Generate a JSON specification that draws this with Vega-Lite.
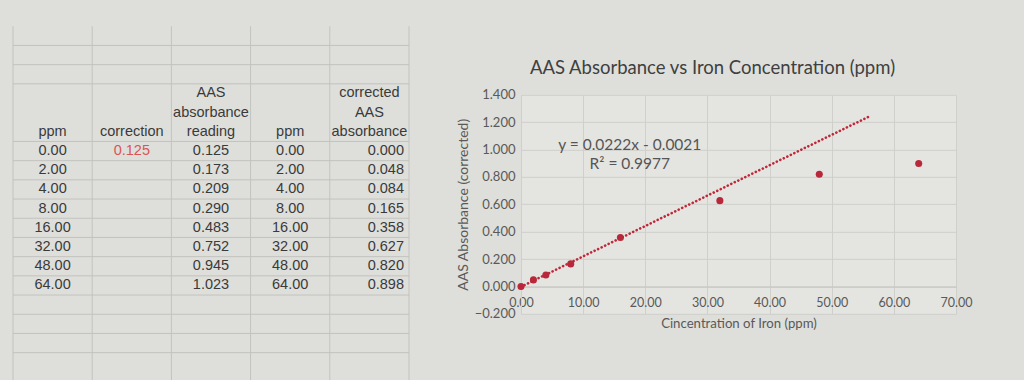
{
  "$schema": "https://vega.github.io/schema/vega-lite/v6.json",
  "background": "#dedfda",
  "padding": {"left": 12, "top": 25, "right": 55, "bottom": 0},
  "center": true,
  "spacing": 46,
  "config": {"view": {"stroke": null}},
  "datasets": {
    "cells": [
      {"col": "reading", "row": "h1", "text": "AAS"},
      {"col": "corrected", "row": "h1", "text": "corrected"},
      {"col": "reading", "row": "h2", "text": "absorbance"},
      {"col": "corrected", "row": "h2", "text": "AAS"},
      {"col": "ppm", "row": "h3", "text": "ppm"},
      {"col": "correction", "row": "h3", "text": "correction"},
      {"col": "reading", "row": "h3", "text": "reading"},
      {"col": "ppm2", "row": "h3", "text": "ppm"},
      {"col": "corrected", "row": "h3", "text": "absorbance"},
      {"col": "ppm", "row": "r0", "text": "0.00"},
      {"col": "correction", "row": "r0", "text": "0.125"},
      {"col": "reading", "row": "r0", "text": "0.125"},
      {"col": "ppm2", "row": "r0", "text": "0.00"},
      {"col": "corrected", "row": "r0", "text": "0.000"},
      {"col": "ppm", "row": "r1", "text": "2.00"},
      {"col": "reading", "row": "r1", "text": "0.173"},
      {"col": "ppm2", "row": "r1", "text": "2.00"},
      {"col": "corrected", "row": "r1", "text": "0.048"},
      {"col": "ppm", "row": "r2", "text": "4.00"},
      {"col": "reading", "row": "r2", "text": "0.209"},
      {"col": "ppm2", "row": "r2", "text": "4.00"},
      {"col": "corrected", "row": "r2", "text": "0.084"},
      {"col": "ppm", "row": "r3", "text": "8.00"},
      {"col": "reading", "row": "r3", "text": "0.290"},
      {"col": "ppm2", "row": "r3", "text": "8.00"},
      {"col": "corrected", "row": "r3", "text": "0.165"},
      {"col": "ppm", "row": "r4", "text": "16.00"},
      {"col": "reading", "row": "r4", "text": "0.483"},
      {"col": "ppm2", "row": "r4", "text": "16.00"},
      {"col": "corrected", "row": "r4", "text": "0.358"},
      {"col": "ppm", "row": "r5", "text": "32.00"},
      {"col": "reading", "row": "r5", "text": "0.752"},
      {"col": "ppm2", "row": "r5", "text": "32.00"},
      {"col": "corrected", "row": "r5", "text": "0.627"},
      {"col": "ppm", "row": "r6", "text": "48.00"},
      {"col": "reading", "row": "r6", "text": "0.945"},
      {"col": "ppm2", "row": "r6", "text": "48.00"},
      {"col": "corrected", "row": "r6", "text": "0.820"},
      {"col": "ppm", "row": "r7", "text": "64.00"},
      {"col": "reading", "row": "r7", "text": "1.023"},
      {"col": "ppm2", "row": "r7", "text": "64.00"},
      {"col": "corrected", "row": "r7", "text": "0.898"}
    ],
    "hlines": [
      {"row": "t1"}, {"row": "t2"}, {"row": "h1"},
      {"row": "r0"}, {"row": "r1"}, {"row": "r2"}, {"row": "r3"},
      {"row": "r4"}, {"row": "r5"}, {"row": "r6"}, {"row": "r7"},
      {"row": "b1"}, {"row": "b2"}, {"row": "b3"}, {"row": "b4"}
    ],
    "vlines": [
      {"col": "ppm"}, {"col": "correction"}, {"col": "reading"}, {"col": "ppm2"}, {"col": "corrected"}
    ],
    "points": [
      {"ppm": 0, "absorbance": 0.000},
      {"ppm": 2, "absorbance": 0.048},
      {"ppm": 4, "absorbance": 0.084},
      {"ppm": 8, "absorbance": 0.165},
      {"ppm": 16, "absorbance": 0.358},
      {"ppm": 32, "absorbance": 0.627},
      {"ppm": 48, "absorbance": 0.820},
      {"ppm": 64, "absorbance": 0.898}
    ],
    "trend": [
      {"ppm": 0, "absorbance": -0.0021},
      {"ppm": 56, "absorbance": 1.2411}
    ],
    "note": [
      {"x": 17.5, "y": 1.034, "label": "y = 0.0222x - 0.0021\nR² = 0.9977"}
    ]
  },
  "hconcat": [
    {
      "width": 396,
      "height": 372,
      "layer": [
        {
          "data": {"name": "vlines"},
          "mark": {"type": "rule", "color": "#c2c3be", "strokeWidth": 1},
          "encoding": {
            "x": {"field": "col", "type": "nominal", "bandPosition": 0,
                  "scale": {"type": "band", "domain": ["ppm", "correction", "reading", "ppm2", "corrected"], "paddingInner": 0, "paddingOuter": 0},
                  "axis": null}
          }
        },
        {
          "data": {"values": [{}]},
          "mark": {"type": "rule", "color": "#c2c3be", "strokeWidth": 1},
          "encoding": {
            "x": {"datum": "corrected", "type": "nominal", "bandPosition": 1,
                  "scale": {"type": "band", "domain": ["ppm", "correction", "reading", "ppm2", "corrected"], "paddingInner": 0, "paddingOuter": 0},
                  "axis": null}
          }
        },
        {
          "data": {"name": "hlines"},
          "mark": {"type": "rule", "color": "#c2c3be", "strokeWidth": 1},
          "encoding": {
            "y": {"field": "row", "type": "nominal", "bandPosition": 0,
                  "scale": {"type": "band", "domain": ["t0", "t1", "t2", "h1", "h2", "h3", "r0", "r1", "r2", "r3", "r4", "r5", "r6", "r7", "b1", "b2", "b3", "b4", "b5"], "paddingInner": 0, "paddingOuter": 0.1875, "align": 0},
                  "axis": null}
          }
        },
        {
          "data": {"name": "cells"},
          "transform": [{"filter": "datum.col !== 'corrected' || datum.row[0] === 'h'"}],
          "mark": {"type": "text", "font": "Liberation Sans", "fontSize": 14.5, "baseline": "middle", "align": "center"},
          "encoding": {
            "x": {"field": "col", "type": "nominal", "bandPosition": 0.5,
                  "scale": {"type": "band", "domain": ["ppm", "correction", "reading", "ppm2", "corrected"], "paddingInner": 0, "paddingOuter": 0},
                  "axis": null},
            "y": {"field": "row", "type": "nominal", "bandPosition": 0.5,
                  "scale": {"type": "band", "domain": ["t0", "t1", "t2", "h1", "h2", "h3", "r0", "r1", "r2", "r3", "r4", "r5", "r6", "r7", "b1", "b2", "b3", "b4", "b5"], "paddingInner": 0, "paddingOuter": 0.1875, "align": 0},
                  "axis": null},
            "text": {"field": "text"},
            "color": {"condition": {"test": "datum.col === 'correction' && datum.row === 'r0'", "value": "#d95555"}, "value": "#3a3a3a"}
          }
        },
        {
          "data": {"name": "cells"},
          "transform": [{"filter": "datum.col === 'corrected' && datum.row[0] === 'r'"}],
          "mark": {"type": "text", "font": "Liberation Sans", "fontSize": 14.5, "baseline": "middle", "align": "right", "dx": -5, "color": "#3a3a3a"},
          "encoding": {
            "x": {"field": "col", "type": "nominal", "bandPosition": 1,
                  "scale": {"type": "band", "domain": ["ppm", "correction", "reading", "ppm2", "corrected"], "paddingInner": 0, "paddingOuter": 0},
                  "axis": null},
            "y": {"field": "row", "type": "nominal", "bandPosition": 0.5,
                  "scale": {"type": "band", "domain": ["t0", "t1", "t2", "h1", "h2", "h3", "r0", "r1", "r2", "r3", "r4", "r5", "r6", "r7", "b1", "b2", "b3", "b4", "b5"], "paddingInner": 0, "paddingOuter": 0.1875, "align": 0},
                  "axis": null},
            "text": {"field": "text"}
          }
        }
      ]
    },
    {
      "width": 435,
      "height": 219,
      "view": {"fill": "#e4e4e0", "stroke": null},
      "title": {"text": "AAS Absorbance vs Iron Concentration (ppm)", "font": "Lato", "fontSize": 18.5, "fontWeight": "normal", "color": "#404040", "offset": 11, "dx": -26},
      "resolve": {"axis": {"x": "independent"}},
      "layer": [
        {
          "data": {"name": "points"},
          "mark": {"type": "circle", "size": 0, "opacity": 0},
          "encoding": {
            "x": {"field": "ppm", "type": "quantitative",
                  "scale": {"domain": [0, 70], "nice": false, "zero": false},
                  "axis": {"grid": true, "gridColor": "#cfcfcb", "labels": false, "ticks": false, "domain": false, "title": null, "values": [0, 10, 20, 30, 40, 50, 60, 70]}},
            "y": {"field": "absorbance", "type": "quantitative",
                  "scale": {"domain": [-0.2, 1.4], "nice": false, "zero": false},
                  "axis": {"values": [-0.2, 0, 0.2, 0.4, 0.6, 0.8, 1.0, 1.2, 1.4], "format": ".3f", "grid": true, "gridColor": "#cfcfcb", "ticks": false, "domain": true, "domainColor": "#cfcfcb", "labelPadding": 6, "labelFlush": false, "labelOverlap": false, "labelFont": "Lato", "labelFontSize": 13, "labelColor": "#595959", "title": "AAS Absorbance (corrected)", "titleFont": "Lato", "titleFontSize": 14, "titleFontWeight": "normal", "titleColor": "#595959", "titlePadding": 4}}
          }
        },
        {
          "data": {"name": "trend"},
          "mark": {"type": "line", "color": "#c0283a", "strokeWidth": 2.6, "strokeDash": [0.1, 3.8], "strokeCap": "round"},
          "encoding": {
            "x": {"field": "ppm", "type": "quantitative",
                  "scale": {"domain": [0, 70], "nice": false, "zero": false},
                  "axis": {"orient": "bottom", "offset": -27.4, "grid": false, "ticks": false, "domain": true, "domainColor": "#c4c4c0", "labelPadding": 10, "labelFlush": false, "labelOverlap": false, "format": ".2f", "values": [0, 10, 20, 30, 40, 50, 60, 70], "labelFont": "Lato", "labelFontSize": 12.5, "labelColor": "#595959", "title": "Cincentration of Iron (ppm)", "titleFont": "Lato", "titleFontSize": 13.2, "titleFontWeight": "normal", "titleColor": "#595959", "titlePadding": 9}},
            "y": {"field": "absorbance", "type": "quantitative",
                  "scale": {"domain": [-0.2, 1.4], "nice": false, "zero": false},
                  "axis": {"values": [-0.2, 0, 0.2, 0.4, 0.6, 0.8, 1.0, 1.2, 1.4], "format": ".3f", "grid": true, "gridColor": "#cfcfcb", "ticks": false, "domain": true, "domainColor": "#cfcfcb", "labelPadding": 6, "labelFlush": false, "labelOverlap": false, "labelFont": "Lato", "labelFontSize": 13, "labelColor": "#595959", "title": "AAS Absorbance (corrected)", "titleFont": "Lato", "titleFontSize": 14, "titleFontWeight": "normal", "titleColor": "#595959", "titlePadding": 4}}
          }
        },
        {
          "data": {"name": "points"},
          "mark": {"type": "circle", "size": 50, "color": "#b8283a", "opacity": 1},
          "encoding": {
            "x": {"field": "ppm", "type": "quantitative",
                  "scale": {"domain": [0, 70], "nice": false, "zero": false}, "axis": null},
            "y": {"field": "absorbance", "type": "quantitative",
                  "scale": {"domain": [-0.2, 1.4], "nice": false, "zero": false},
                  "axis": {"values": [-0.2, 0, 0.2, 0.4, 0.6, 0.8, 1.0, 1.2, 1.4], "format": ".3f", "grid": true, "gridColor": "#cfcfcb", "ticks": false, "domain": true, "domainColor": "#cfcfcb", "labelPadding": 6, "labelFlush": false, "labelOverlap": false, "labelFont": "Lato", "labelFontSize": 13, "labelColor": "#595959", "title": "AAS Absorbance (corrected)", "titleFont": "Lato", "titleFontSize": 14, "titleFontWeight": "normal", "titleColor": "#595959", "titlePadding": 4}}
          }
        },
        {
          "data": {"name": "note"},
          "mark": {"type": "text", "lineBreak": "\n", "font": "Lato", "fontSize": 15.5, "lineHeight": 19, "align": "center", "baseline": "middle", "color": "#555555"},
          "encoding": {
            "x": {"field": "x", "type": "quantitative",
                  "scale": {"domain": [0, 70], "nice": false, "zero": false}, "axis": null},
            "y": {"field": "y", "type": "quantitative",
                  "scale": {"domain": [-0.2, 1.4], "nice": false, "zero": false},
                  "axis": {"values": [-0.2, 0, 0.2, 0.4, 0.6, 0.8, 1.0, 1.2, 1.4], "format": ".3f", "grid": true, "gridColor": "#cfcfcb", "ticks": false, "domain": true, "domainColor": "#cfcfcb", "labelPadding": 6, "labelFlush": false, "labelOverlap": false, "labelFont": "Lato", "labelFontSize": 13, "labelColor": "#595959", "title": "AAS Absorbance (corrected)", "titleFont": "Lato", "titleFontSize": 14, "titleFontWeight": "normal", "titleColor": "#595959", "titlePadding": 4}},
            "text": {"field": "label"}
          }
        }
      ]
    }
  ]
}
